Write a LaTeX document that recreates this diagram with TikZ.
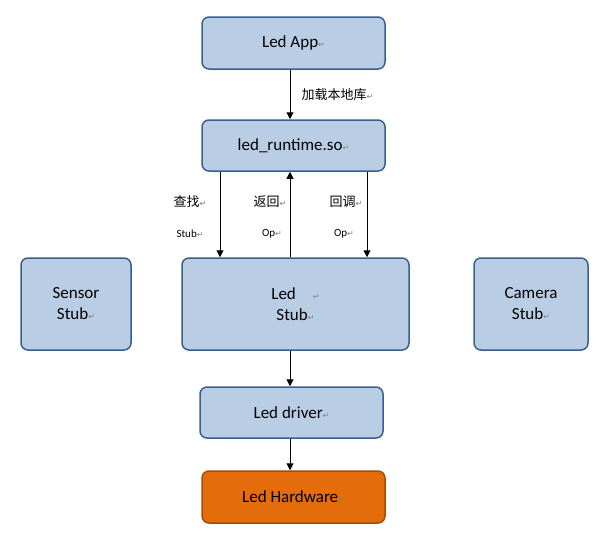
\documentclass[tikz,border=0pt]{standalone}
\usepackage{fontspec}
\setmainfont{Carlito}
\newfontfamily\cjk{Noto Sans CJK SC}
\newfontfamily\symf{DejaVu Sans}
\usetikzlibrary{positioning}
\usetikzlibrary{arrows.meta}
\definecolor{boxfill}{HTML}{B9CDE5}
\definecolor{boxline}{HTML}{3A5F8C}
\definecolor{hwfill}{HTML}{E46C0A}
\definecolor{hwline}{HTML}{A34E08}
\newcommand{\pmark}{{\symf\color{gray}\fontsize{8}{8}\selectfont ↵}}
\tikzset{
  box/.style={draw=boxline, line width=1.5pt, fill=boxfill, rounded corners=7pt,
    font=\fontsize{17}{21}\selectfont, align=center, inner sep=0pt},
  hw/.style={box, draw=hwline, fill=hwfill},
  arr/.style={-{Triangle[length=7pt,width=7pt]}, line width=1pt},
  lbl/.style={font=\cjk\fontsize{13}{15}\selectfont, inner sep=1pt},
  sml/.style={font=\fontsize{11}{13}\selectfont, inner sep=1pt}
}
\begin{document}
\begin{tikzpicture}[x=1pt, y=-1pt]
		\useasboundingbox (0,0) rectangle (604,538);

		\node[box, minimum width=183pt, minimum height=52pt] (app) at (293.5, 43) {Led App\pmark};
		\node[box, minimum width=183pt, minimum height=51pt] (rt) at (293.5, 145.5) {led\_runtime.so\pmark};
		\node[box, minimum width=110pt, minimum height=92pt] (sensor) at (76, 304) {Sensor\\Stub\pmark};
		\node[box, minimum width=227pt, minimum height=92pt] (stub) at (295.5, 304) {Led\quad\pmark\\Stub\pmark};
		\node[box, minimum width=114pt, minimum height=92pt] (camera) at (531, 304) {Camera\\Stub\pmark};
		\node[box, minimum width=183pt, minimum height=51pt] (drv) at (291.5, 412.5) {Led driver\pmark};
		\node[hw, minimum width=183pt, minimum height=52pt] (hwn) at (293.5, 497) {Led Hardware\pmark};

		\draw[arr] (app.south -| 290,0) -- node[lbl, right=10pt] {加载本地库\pmark} (rt.north -| 290,0);
		\draw[arr] (rt.south -| 220,0) -- (stub.north -| 220,0);
		\draw[arr] (stub.north -| 290,0) -- (rt.south -| 290,0);
		\draw[arr] (rt.south -| 367,0) -- (stub.north -| 367,0);
		\draw[arr] (stub.south -| 290,0) -- (drv.north -| 290,0);
		\draw[arr] (drv.south -| 290,0) -- (hwn.north -| 290,0);

		\node[lbl] (f1) at (190, 202) {查找\pmark};
		\node[sml] (f2) at (190, 234) {Stub\pmark};
		\node[lbl] (r1) at (270, 202) {返回\pmark};
		\node[sml] (r2) at (272, 234) {Op\pmark};
		\node[lbl] (c1) at (346, 202) {回调\pmark};
		\node[sml] (c2) at (344, 234) {Op\pmark};
\end{tikzpicture}
\end{document}
